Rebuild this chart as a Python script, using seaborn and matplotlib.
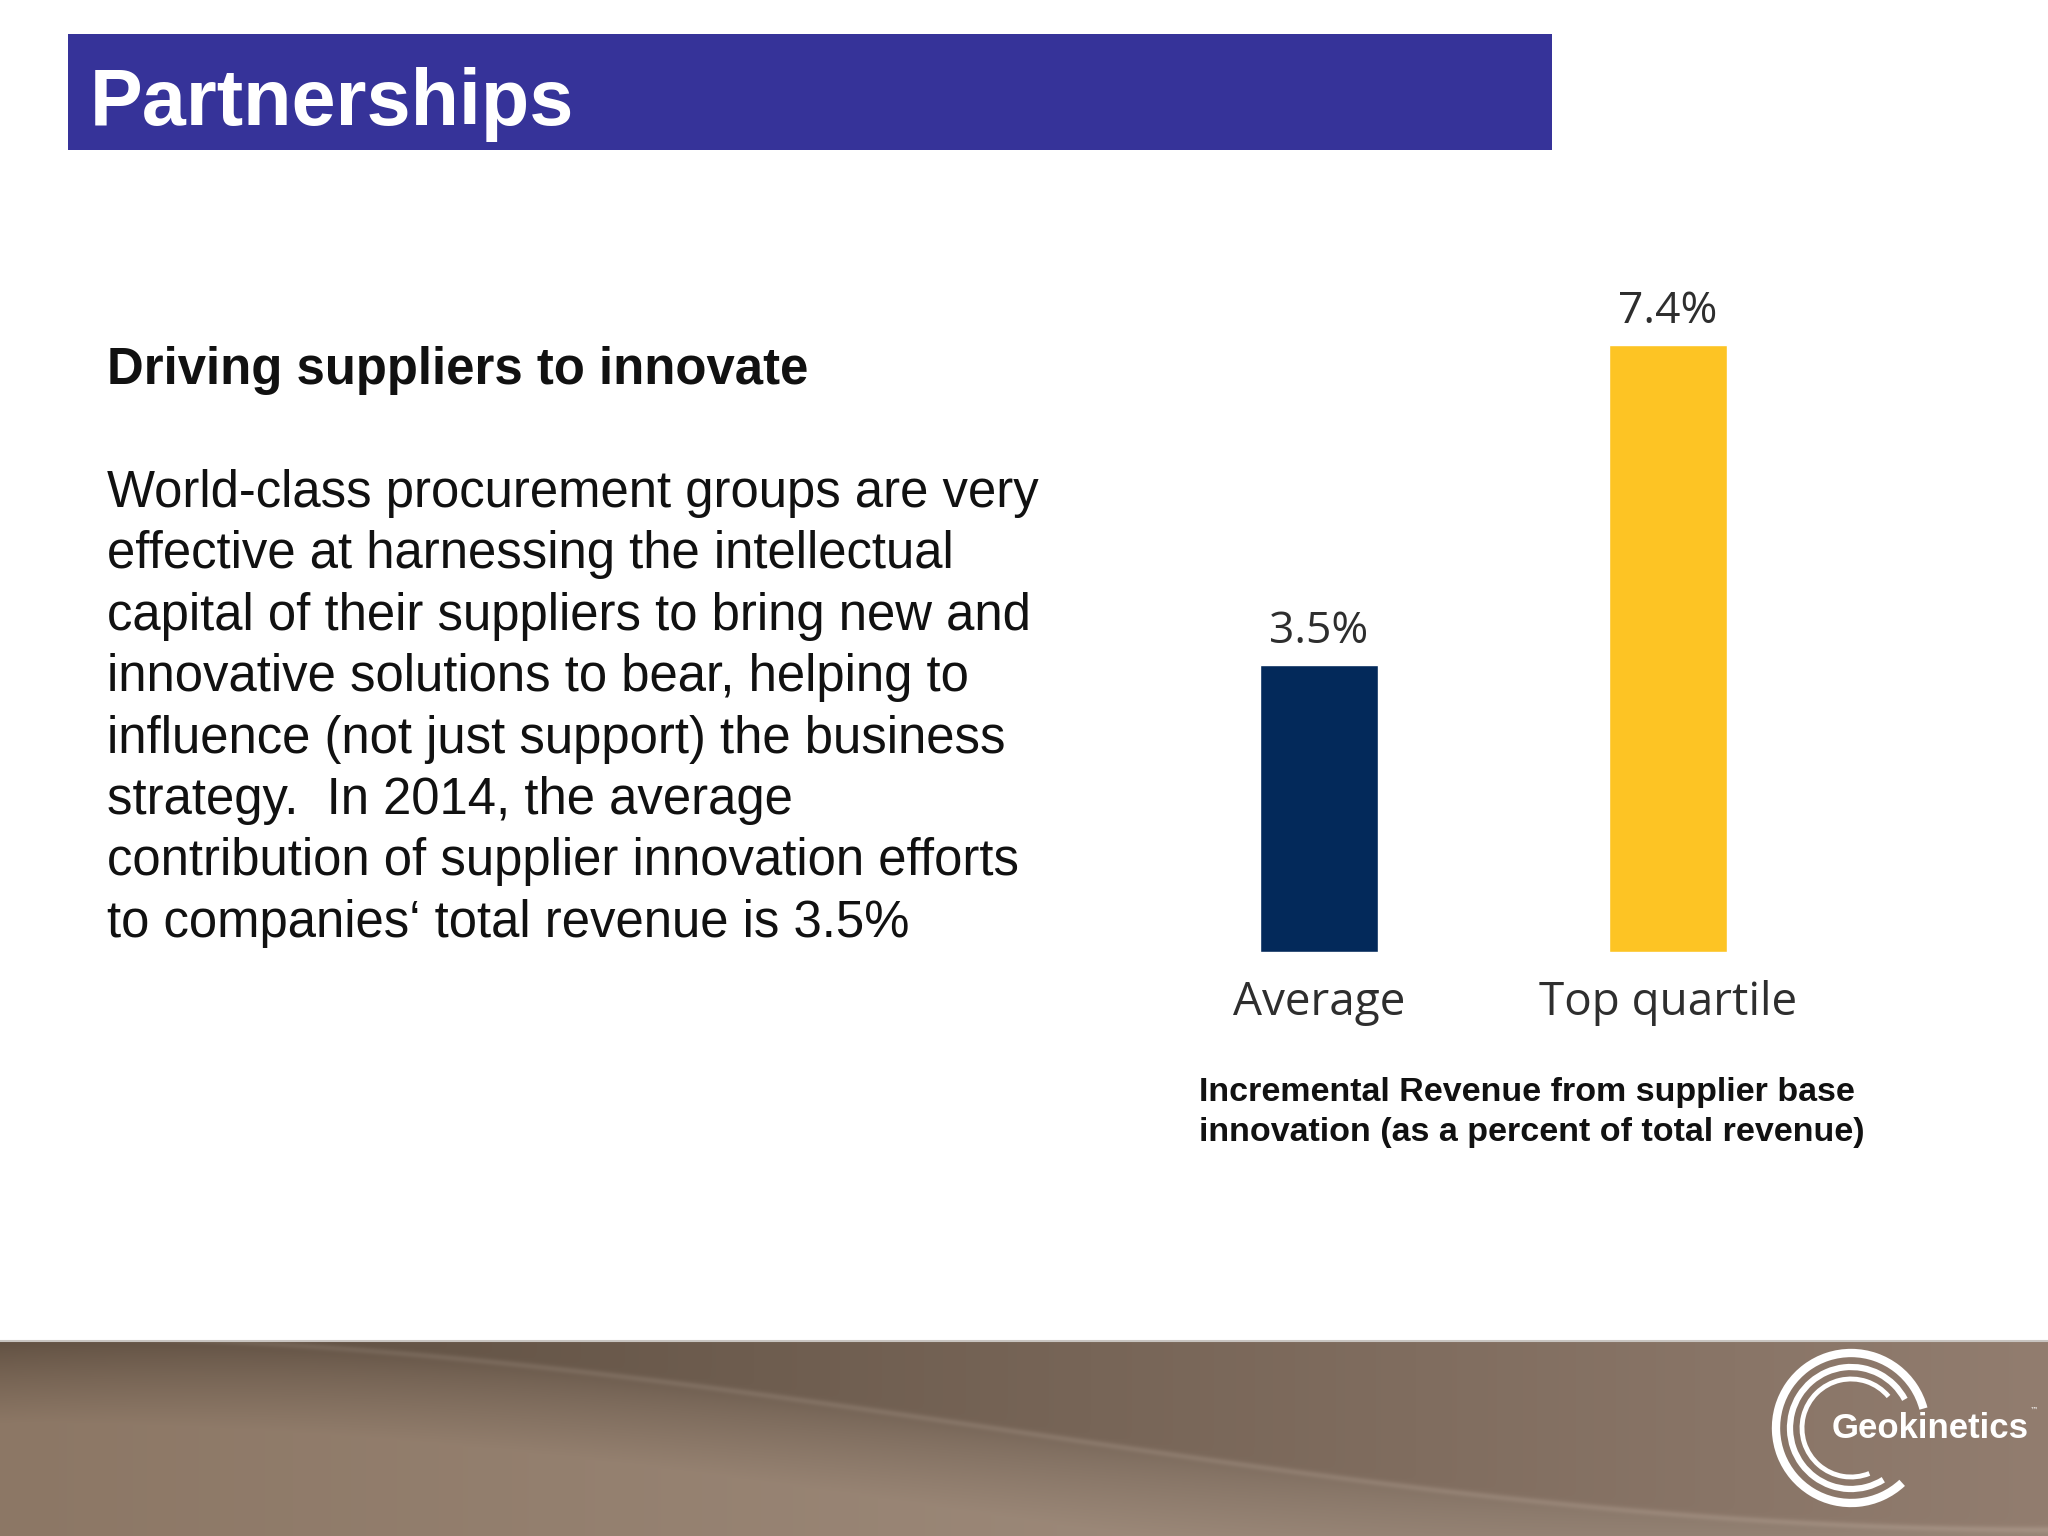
"""Slide recreation: Partnerships - supplier innovation revenue bars."""

import matplotlib

matplotlib.use("Agg")
import matplotlib.pyplot as plt
import numpy as np
import pandas as pd
import seaborn as sns
from matplotlib.patches import Arc, Rectangle

W, H = 2048, 1536

# chart data
CATEGORIES = ["Average", "Top quartile"]
VALUES = [3.5, 7.4]
BAR_COLORS = ["#03295a", "#fdc424"]

TITLE = "Partnerships"
HEADING = "Driving suppliers to innovate"
BODY_LINES = [
    "World-class procurement groups are very",
    "effective at harnessing the intellectual",
    "capital of their suppliers to bring new and",
    "innovative solutions to bear, helping to",
    "influence (not just support) the business",
    "strategy.  In 2014, the average",
    "contribution of supplier innovation efforts",
    "to companies\u2018 total revenue is 3.5%",
]
CAPTION_LINES = [
    "Incremental Revenue from supplier base",
    "innovation (as a percent of total revenue)",
]


def fx(x):
    return x / W


def fy(y):
    return 1 - y / H


def rgb(r, g, b):
    return np.array([r, g, b]) / 255.0


def lerp(a, b, t):
    return a * (1 - t[..., None]) + b * t[..., None]


def draw_band(fig):
    band_h = H - 1341
    ax = fig.add_axes([0, 0, 1, band_h / H])
    t = np.linspace(0, 1, W)
    s = np.linspace(0, 1, band_h)
    X, Y = np.meshgrid(t, s)
    yc = 0.5 - 0.5 * np.cos(np.pi * X) - 0.03
    d = Y - yc  # > 0 below the swoosh
    upper = lerp(rgb(92, 77, 63), rgb(146, 125, 111), X ** 1.1)
    shadow = lerp(rgb(92, 76, 62), rgb(150, 132, 118), X)
    light = lerp(rgb(140, 119, 101), rgb(168, 150, 136), X)
    lower = lerp(shadow, light, np.clip(d / 0.45, 0, 1) ** 0.8)
    w = 1 / (1 + np.exp(-d / 0.012))
    img = lerp(upper, lower, w)
    img = img + (0.06 * np.exp(-(d ** 2) / 0.0003))[..., None]
    ax.imshow(np.clip(img, 0, 1), aspect="auto", extent=(0, 1, 1, 0))
    ax.set_xlim(0, 1)
    ax.set_ylim(1, 0)
    ax.axis("off")
    fig.add_artist(plt.Line2D([0, 1], [fy(1341), fy(1341)], color="#c8c4c0", lw=1.5))

    # logo
    cx, cy, size = 1851, 1428, 200
    lax = fig.add_axes([fx(cx - size / 2), fy(cy + size / 2), size / W, size / H])
    lax.set_xlim(-100, 100)
    lax.set_ylim(-100, 100)
    lax.set_aspect("equal")
    lax.axis("off")
    for r, lw, t1, t2 in [(75, 6, 15, 313), (61, 4.5, 28, 302), (49, 3.5, 40, 292)]:
        lax.add_patch(Arc((0, 0), 2 * r, 2 * r, theta1=t1, theta2=t2, color="white", lw=lw))
    fig.text(fx(1832), fy(1428), "Geokinetics", color="white", fontsize=25,
             fontweight="bold", family="Liberation Sans", va="center", ha="left")
    fig.text(fx(2030), fy(1410), "\u2122", color="white", fontsize=6,
             family="DejaVu Sans", va="center", ha="left")


def main():
    sns.set_theme(style="white")
    fig = plt.figure(figsize=(W / 100, H / 100), dpi=100)
    fig.patch.set_facecolor("white")

    # title banner
    fig.add_artist(Rectangle((fx(68), fy(150)), fx(1552 - 68), (150 - 34) / H,
                             transform=fig.transFigure, color="#363399", lw=0))
    fig.text(fx(90), fy(125), TITLE, color="white", fontsize=57, fontweight="bold",
             family="Liberation Sans", va="baseline", ha="left")

    fig.text(fx(107), fy(384), HEADING, color="#111111", fontsize=36.6, fontweight="bold",
             family="Liberation Sans", va="baseline", ha="left")
    for i, line in enumerate(BODY_LINES):
        fig.text(fx(107), fy(507 + i * 61.4), line, color="#111111", fontsize=36.6,
                 family="Liberation Sans", va="baseline", ha="left")

    # bar chart
    ax = fig.add_axes([fx(1144.5), fy(952), 698 / W, (952 - 296) / H])
    df = pd.DataFrame({"category": CATEGORIES, "value": VALUES})
    sns.barplot(data=df, x="category", y="value", hue="category",
                palette=BAR_COLORS, width=0.338, saturation=1, legend=False, ax=ax)
    ax.set_xlim(-0.5, 1.5)
    ax.set_ylim(0, 8)
    for cont in ax.containers:
        ax.bar_label(cont, fmt="%.1f%%", padding=8, fontsize=32,
                     color="#2e2e2e", family="Open Sans")
    ax.set_xlabel("")
    ax.set_ylabel("")
    ax.set_yticks([])
    ax.tick_params(axis="x", length=0, pad=20, labelsize=33, labelcolor="#2e2e2e")
    for lab in ax.get_xticklabels():
        lab.set_family("Open Sans")
    sns.despine(ax=ax, left=True, bottom=True)
    ax.patch.set_alpha(0)

    for i, line in enumerate(CAPTION_LINES):
        fig.text(fx(1199), fy(1101 + i * 40.5), line, color="#111111", fontsize=24.5,
                 fontweight="bold", family="Liberation Sans", va="baseline", ha="left")

    draw_band(fig)

    fig.savefig("out.png", dpi=100)
    plt.close(fig)


if __name__ == "__main__":
    main()
